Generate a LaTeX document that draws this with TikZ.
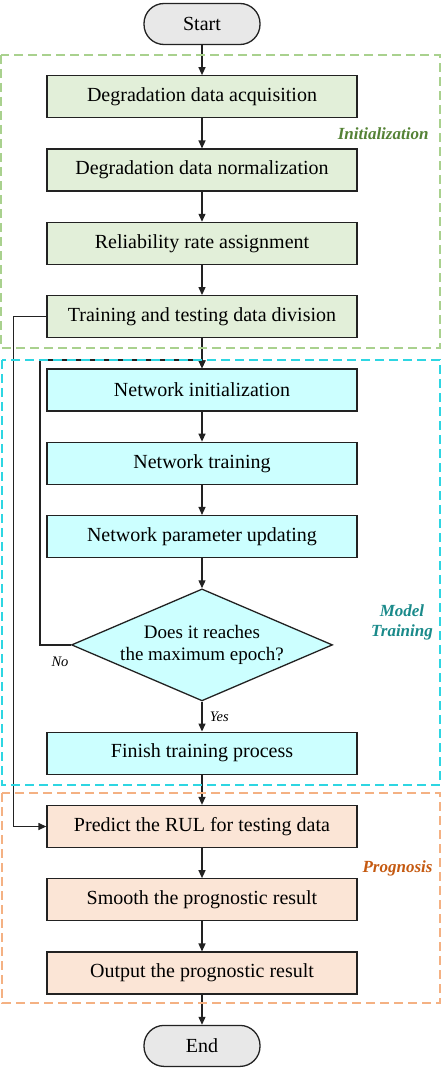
\documentclass[tikz,border=0pt]{standalone}
\usepackage{fontspec}
\setmainfont{Liberation Serif}
\usepackage{tikz}
\usetikzlibrary{arrows.meta,positioning,shapes.geometric}

\definecolor{initfill}{HTML}{E2EFD9}
\definecolor{initline}{HTML}{A9D18E}
\definecolor{inittext}{HTML}{548235}
\definecolor{trainfill}{HTML}{CCFFFF}
\definecolor{trainline}{HTML}{2ED6E2}
\definecolor{traintext}{HTML}{1A8A8A}
\definecolor{progfill}{HTML}{FBE5D6}
\definecolor{progline}{HTML}{F4B183}
\definecolor{progtext}{HTML}{C55A11}
\definecolor{termfill}{HTML}{E8E8E8}
\definecolor{edge}{HTML}{222222}

\begin{document}
\begin{tikzpicture}[
    x=1pt, y=-1pt,
    font=\fontsize{20}{23}\selectfont,
    node distance=30pt,
    term/.style={rounded corners=20pt, draw=edge, line width=1.3pt, fill=termfill, minimum width=116pt, minimum height=41pt},
    initbox/.style={draw=edge, line width=1.3pt, fill=initfill, minimum width=310pt, minimum height=42pt},
    trainbox/.style={initbox, fill=trainfill},
    progbox/.style={initbox, fill=progfill},
    decide/.style={diamond, draw=edge, line width=1.3pt, fill=trainfill, aspect=2.33, inner xsep=-9pt, inner ysep=0pt, minimum width=261pt, minimum height=112pt, align=center, font=\fontsize{19}{22}\selectfont},
    arr/.style={-{Triangle[length=8pt,width=7pt]}, line width=1.3pt, draw=edge},
    group/.style={dashed, dash pattern=on 9pt off 5pt, line width=1.5pt},
    grouplabel/.style={font=\fontsize{17}{20}\selectfont\bfseries\itshape, align=center},
    yesno/.style={font=\fontsize{14.5}{17}\selectfont\itshape},
  ]
    \useasboundingbox (0,0) rectangle (444,1070);

    \node[term] (start) at (202,24) {Start};

    \node[initbox, below=of start] (acquire) {Degradation data acquisition};
    \node[initbox, below=of acquire] (normalize) {Degradation data normalization};
    \node[initbox, below=of normalize] (assign) {Reliability rate assignment};
    \node[initbox, below=of assign] (divide) {Training and testing data division};

    \node[trainbox, below=of divide] (netinit) {Network initialization};
    \node[trainbox, below=of netinit] (nettrain) {Network training};
    \node[trainbox, below=of nettrain] (update) {Network parameter updating};
    \node[decide, below=of update] (epoch) {Does it reaches\\the maximum epoch?};
    \node[trainbox, below=of epoch] (finish) {Finish training process};

    \node[progbox, below=of finish] (predict) {Predict the RUL for testing data};
    \node[progbox, below=of predict] (smooth) {Smooth the prognostic result};
    \node[progbox, below=of smooth] (output) {Output the prognostic result};

    \node[term, below=of output] (end) {End};

    \coordinate (looptop) at (40,360);

    \draw[arr] (start) -- (acquire);
    \draw[arr] (acquire) -- (normalize);
    \draw[arr] (normalize) -- (assign);
    \draw[arr] (assign) -- (divide);
    \draw[arr] (divide) -- (netinit);
    \draw[arr] (netinit) -- (nettrain);
    \draw[arr] (nettrain) -- (update);
    \draw[arr] (update) -- (epoch);
    \draw[arr] (epoch) -- node[yesno, right=4pt] {Yes} (finish);
    \draw[arr] (finish) -- (predict);
    \draw[arr] (predict) -- (smooth);
    \draw[arr] (smooth) -- (output);
    \draw[arr] (output) -- (end);

    % loop back when the epoch limit is not reached
    \draw[arr] (epoch.west) -| (looptop) -- (looptop -| netinit.north) -- (netinit.north);
    \node[yesno] (no) at (60,662) {No};

    % testing data goes straight to prediction
    \draw[arr] (divide.west) -- ++(-33,0) |- (predict.west);

    % stage frames
    \draw[group, draw=initline] (1,55) rectangle (440,348);
    \draw[group, draw=trainline] (2,360) rectangle (440,785);
    \draw[group, draw=progline] (2,793) rectangle (440,1003);

    \node[grouplabel, text=inittext, anchor=east] (initlabel) at (432,134) {Initialization};
    \node[grouplabel, text=traintext] (trainlabel) at (402,622) {Model\\Training};
    \node[grouplabel, text=progtext, anchor=east] (proglabel) at (436,868) {Prognosis};
\end{tikzpicture}
\end{document}
